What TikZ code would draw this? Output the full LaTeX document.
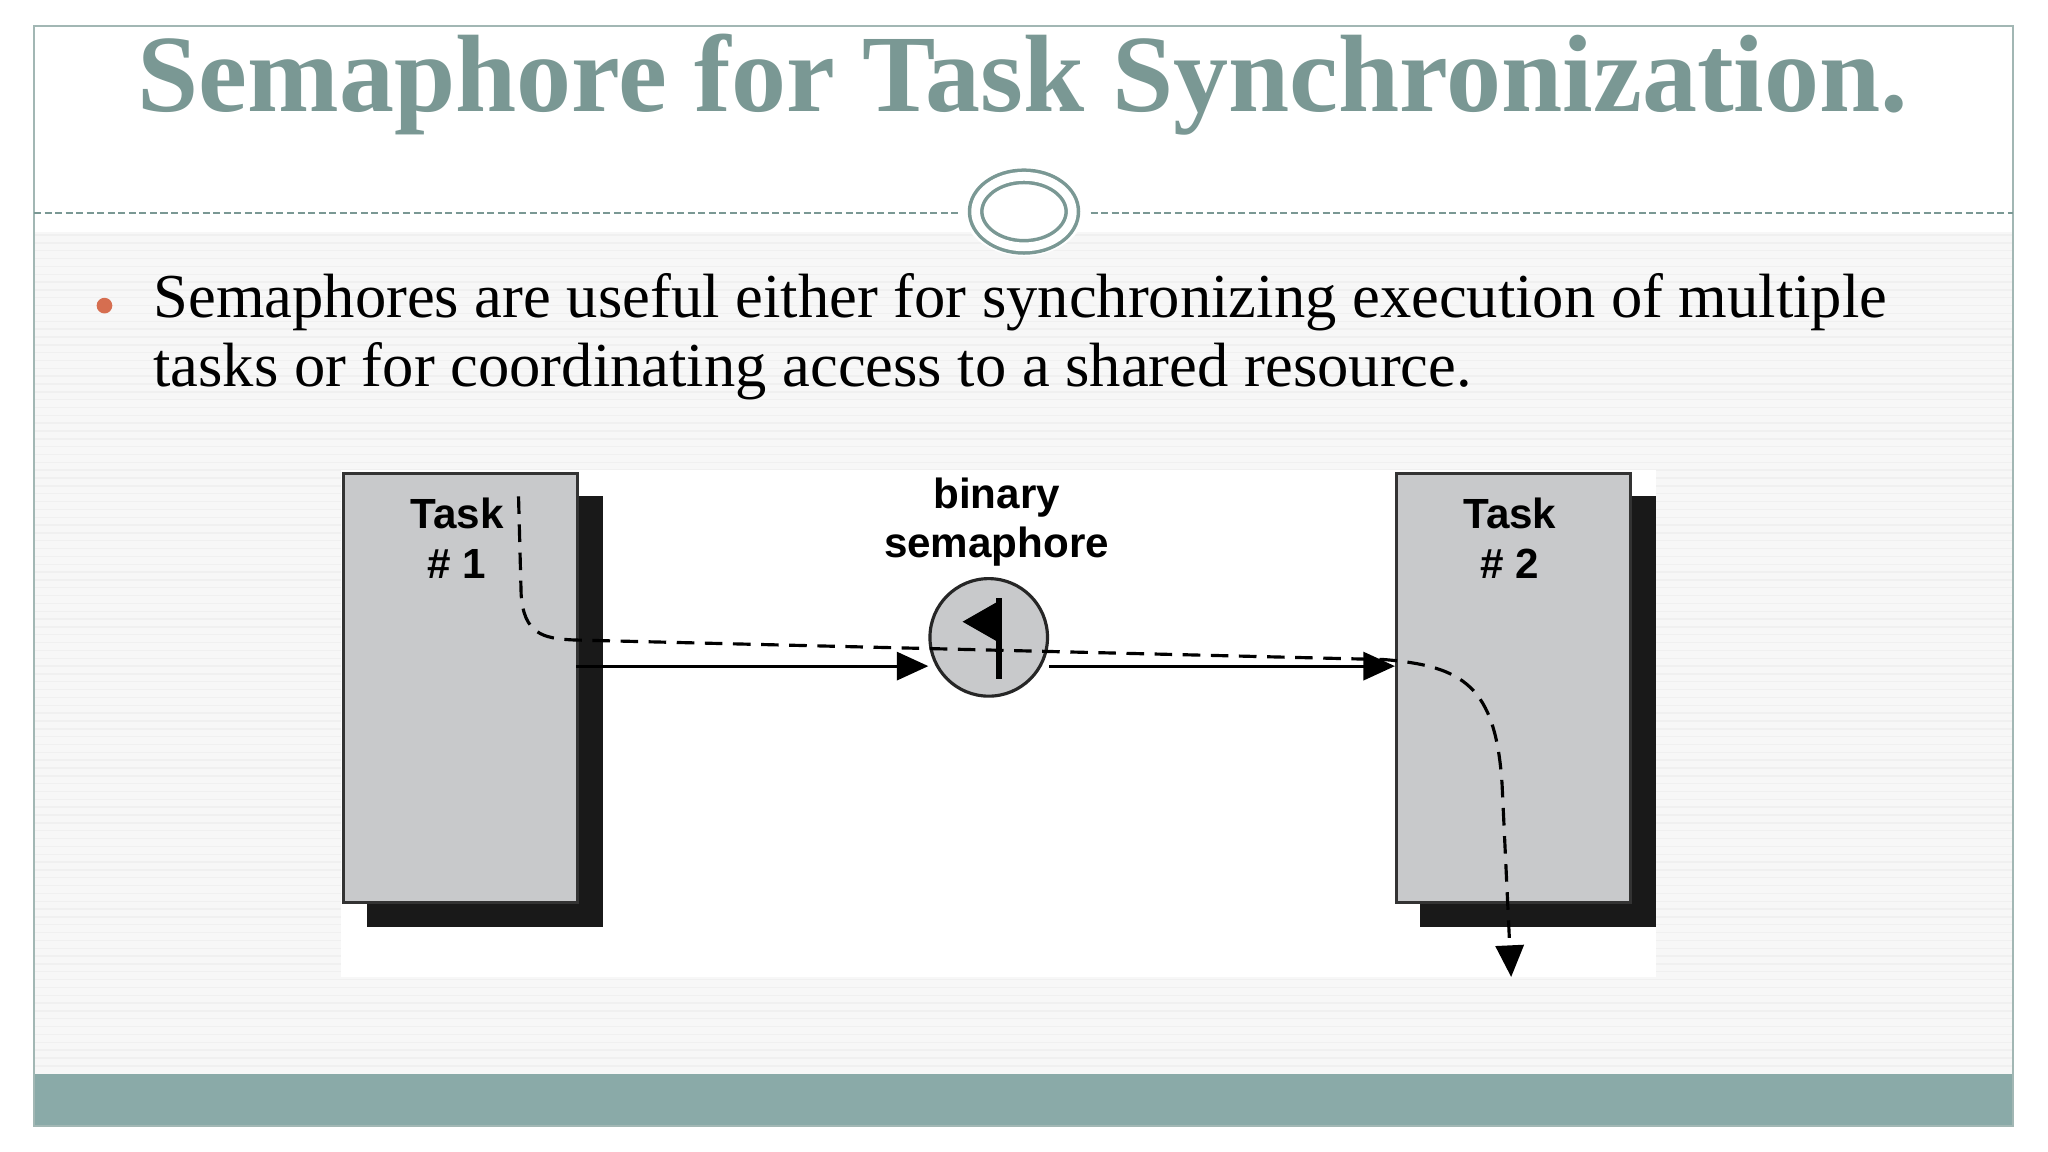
\documentclass[tikz,border=0pt]{standalone}
\usepackage{fontspec}
\setmainfont{Liberation Serif}
\setsansfont{Liberation Sans}
\usetikzlibrary{arrows.meta}
\definecolor{teal1}{RGB}{122,152,148}
\definecolor{bar}{RGB}{138,170,168}
\definecolor{boxg}{RGB}{200,201,203}
\definecolor{bul}{RGB}{214,110,80}
\tikzset{
  taskbox/.style={draw=black!80,line width=0.9pt,fill=boxg},
  shadowbox/.style={fill=black!90},
  lbl/.style={font=\sffamily\bfseries\fontsize{12}{14}\selectfont,align=center},
  arr/.style={line width=0.9pt,-{Triangle[length=9pt,width=8pt]}},
  darr/.style={line width=0.9pt,dashed,dash pattern=on 5pt off 3pt,-{Triangle[length=9pt,width=8pt]}}
}
\begin{document}
\begin{tikzpicture}[x=0.013061cm,y=-0.013061cm]
\useasboundingbox (0,0) rectangle (1568,882);
\fill[white] (0,0) rectangle (1568,882);
\fill[gray!6] (26,178) rectangle (1541,822);
\foreach \yy in {180,186,...,820} \draw[gray!12,line width=0.4pt] (26,\yy) -- (1541,\yy);
\fill[bar] (26,822) rectangle (1541,862);
\draw[teal1!70,line width=0.6pt] (26,20) rectangle (1541,862);
\node[font=\bfseries\fontsize{31.3}{36}\selectfont,text=teal1] (title) at (783,65) {Semaphore for Task Synchronization.};
\draw[teal1,dashed,dash pattern=on 2pt off 1pt,line width=0.5pt] (26,163) -- (735,163);
\draw[teal1,dashed,dash pattern=on 2pt off 1pt,line width=0.5pt] (835,163) -- (1541,163);
\fill[white] (784,162) ellipse (46 and 34);
\draw[teal1,double=white,double distance=2.5pt,line width=1pt] (784,162) ellipse (37 and 27);
\fill[bul] (80,234) circle (6);
\node[anchor=west,align=left,font=\fontsize{17.8}{19.6}\selectfont] (txt) at (108,258) {Semaphores are useful either for synchronizing execution of multiple\\tasks or for coordinating access to a shared resource.};
\fill[white] (261,360) rectangle (1268,748);
\fill[shadowbox] (281,380) rectangle (462,710);
\fill[shadowbox] (1087,380) rectangle (1268,710);
\node[taskbox,minimum width=179*0.013061cm,minimum height=329*0.013061cm,anchor=north west] (t1) at (262,361) {};
\node[taskbox,minimum width=179*0.013061cm,minimum height=329*0.013061cm,anchor=north west] (t2) at (1068,361) {};
\node[lbl] (l1) at (350,412) {Task\\\# 1};
\node[lbl] (l2) at (1156,412) {Task\\\# 2};
\node[lbl] (lb) at (763,400) {binary\\semaphore};
\node[circle,draw=black!85,line width=0.9pt,fill=boxg,minimum size=90*0.013061cm] (sem) at (757,488) {};
\fill[black] (765,460) -- (765,492) -- (737,476) -- cycle;
\draw[line width=1.6pt] (765,458) -- (765,520);
\coordinate (a1) at (441,510);
\coordinate (d0) at (397,380);
\coordinate (d1) at (1157,748);
\draw[arr] (a1) -- (sem.west |- a1);
\draw[arr] (sem.east |- a1) -- (t2.west |- a1);
\draw[darr] (d0) -- (399,455) .. controls (401,485) and (415,489) .. (440,490) -- (1060,505) .. controls (1120,510) and (1145,525) .. (1150,600) -- (d1);
\end{tikzpicture}
\end{document}
